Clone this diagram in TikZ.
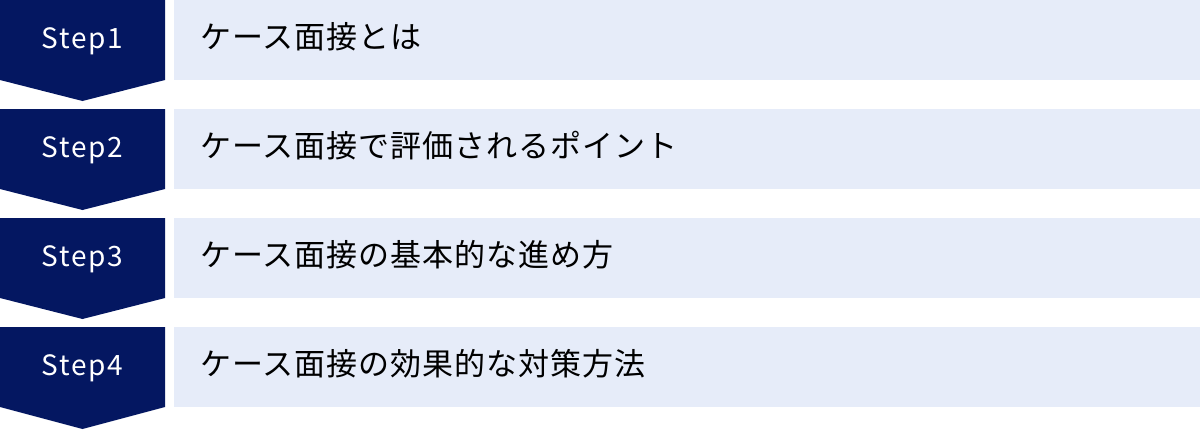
\documentclass[tikz,border=0pt]{standalone}
\usepackage{fontspec}
\setmainfont{Noto Sans CJK JP}
\newfontfamily\stepfont[LetterSpace=6.5]{Noto Sans CJK JP}
\newfontfamily\rowfont[LetterSpace=3.2]{Noto Sans CJK JP}
\usetikzlibrary{positioning}
\definecolor{stepnavy}{HTML}{041761}
\definecolor{rowblue}{HTML}{E6ECF9}
\tikzset{
  steplabel/.style={text=white, font=\stepfont\fontsize{28}{30}\selectfont, inner sep=0pt},
  rowtext/.style={text=black, font=\rowfont\fontsize{31}{34}\selectfont, inner sep=0pt, anchor=west},
}

\begin{document}
\begin{tikzpicture}[x=1pt,y=-1pt]
    \useasboundingbox (0,0) rectangle (1200,429);
    % step 1
    \fill[stepnavy] (0,0)-- ++(165,0)-- ++(0,80)-- ++(-82.5,21)-- ++(-82.5,-21)--cycle;
    \fill[rowblue] (174,0) rectangle (1200,80);
    \node[steplabel] (s1) at (82.5,41) {Step1};
    \node[rowtext] (t1) at (200,37) {ケース面接とは};
    % step 2
    \fill[stepnavy] (0,109)-- ++(165,0)-- ++(0,80)-- ++(-82.5,21)-- ++(-82.5,-21)--cycle;
    \fill[rowblue] (174,109) rectangle (1200,189);
    \node[steplabel] (s2) at (82.5,150) {Step2};
    \node[rowtext] (t2) at (200,146) {ケース面接で評価されるポイント};
    % step 3
    \fill[stepnavy] (0,218)-- ++(165,0)-- ++(0,80)-- ++(-82.5,21)-- ++(-82.5,-21)--cycle;
    \fill[rowblue] (174,218) rectangle (1200,298);
    \node[steplabel] (s3) at (82.5,259) {Step3};
    \node[rowtext] (t3) at (200,255) {ケース面接の基本的な進め方};
    % step 4
    \fill[stepnavy] (0,327)-- ++(165,0)-- ++(0,80)-- ++(-82.5,22)-- ++(-82.5,-22)--cycle;
    \fill[rowblue] (174,327) rectangle (1200,407);
    \node[steplabel] (s4) at (82.5,368) {Step4};
    \node[rowtext] (t4) at (200,364) {ケース面接の効果的な対策方法};
  \end{tikzpicture}
\end{document}
